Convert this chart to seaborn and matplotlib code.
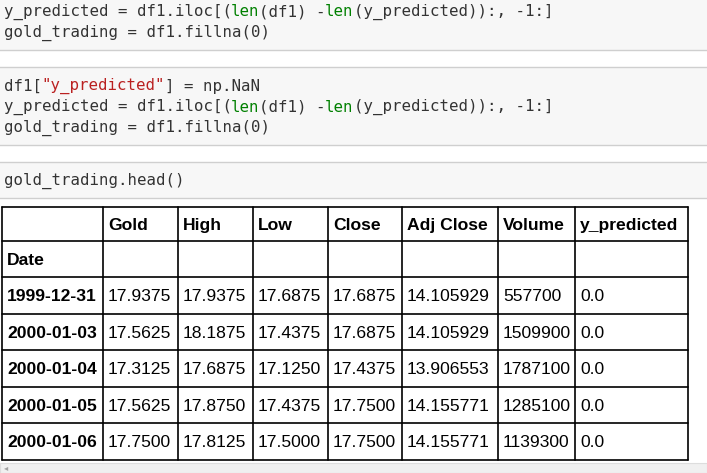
import matplotlib
matplotlib.use("Agg")
import matplotlib.pyplot as plt
import seaborn as sns
from matplotlib.patches import Rectangle

sns.set_style("white")

code_cells = [
    [[("y_predicted = df1.iloc[(", "#333333"), ("len", "#008000"), ("(df1) -", "#333333"), ("len", "#008000"), ("(y_predicted)):, -1:]", "#333333")],
     [("gold_trading = df1.fillna(0)", "#333333")]],
    [[("df1[", "#333333"), ('"y_predicted"', "#BA2121"), ("] = np.NaN", "#333333")],
     [("y_predicted = df1.iloc[(", "#333333"), ("len", "#008000"), ("(df1) -", "#333333"), ("len", "#008000"), ("(y_predicted)):, -1:]", "#333333")],
     [("gold_trading = df1.fillna(0)", "#333333")]],
    [[("gold_trading.head()", "#333333")]],
]
columns = ["", "Gold", "High", "Low", "Close", "Adj Close", "Volume", "y_predicted"]
index_name = "Date"
dates = ["1999-12-31", "2000-01-03", "2000-01-04", "2000-01-05", "2000-01-06"]
gold = ["17.9375", "17.5625", "17.3125", "17.5625", "17.7500"]
high = ["17.9375", "18.1875", "17.6875", "17.8750", "17.8125"]
low = ["17.6875", "17.4375", "17.1250", "17.4375", "17.5000"]
close = ["17.6875", "17.6875", "17.4375", "17.7500", "17.7500"]
adj_close = ["14.105929", "14.105929", "13.906553", "14.155771", "14.155771"]
volume = ["557700", "1509900", "1787100", "1285100", "1139300"]
y_pred = ["0.0", "0.0", "0.0", "0.0", "0.0"]

W, H = 707, 473
fig = plt.figure(figsize=(W / 100, H / 100), dpi=100)
ax = fig.add_axes([0, 0, 1, 1])
ax.set_xlim(0, W)
ax.set_ylim(H, 0)
ax.axis("off")

mono = "DejaVu Sans Mono"
fs_mono = 11.3
adv = 0.602 * fs_mono * 100 / 72
cell_boxes = [(-5, 50), (67, 145), (162, 198)]
line_y = [[12, 33], [86, 107, 128], [181]]
for (y0, y1), lines, ys in zip(cell_boxes, code_cells, line_y):
    ax.add_patch(Rectangle((-2, y0), W + 4, y1 - y0, facecolor="#f7f7f7", edgecolor="#cfcfcf", lw=1))
    for segs, y in zip(lines, ys):
        x = 4
        for txt, col in segs:
            ax.text(x, y, txt, family=mono, fontsize=fs_mono, color=col, va="center", ha="left")
            x += len(txt) * adv

col_x = [2, 103, 178, 253, 328, 402, 498, 575, 688]
row_y = [207, 241, 277, 314, 350, 387, 423, 460]
sans = "Liberation Sans"
for x in col_x:
    ax.plot([x, x], [row_y[0], row_y[-1]], color="black", lw=1.2)
for y in row_y:
    ax.plot([col_x[0], col_x[-1]], [y, y], color="black", lw=1.2)

def cell(ci, ri, txt, bold=False):
    ax.text(col_x[ci] + 5, (row_y[ri] + row_y[ri + 1]) / 2 + 1, txt, family=sans, fontsize=12.6,
            fontweight="bold" if bold else "normal", va="center", ha="left", color="black")

for ci, c in enumerate(columns):
    cell(ci, 0, c, bold=True)
cell(0, 1, index_name, bold=True)
data_cols = [gold, high, low, close, adj_close, volume, y_pred]
for ri, d in enumerate(dates):
    cell(0, ri + 2, d, bold=True)
    for ci, col in enumerate(data_cols):
        cell(ci + 1, ri + 2, col[ri])

ax.add_patch(Rectangle((0, 463), W, 10, facecolor="#f0f0f0", edgecolor="#dddddd", lw=0.8))
ax.text(4, 468, "◂", fontsize=6, color="#a0a0a0", va="center")

fig.savefig("out.png", dpi=100)
